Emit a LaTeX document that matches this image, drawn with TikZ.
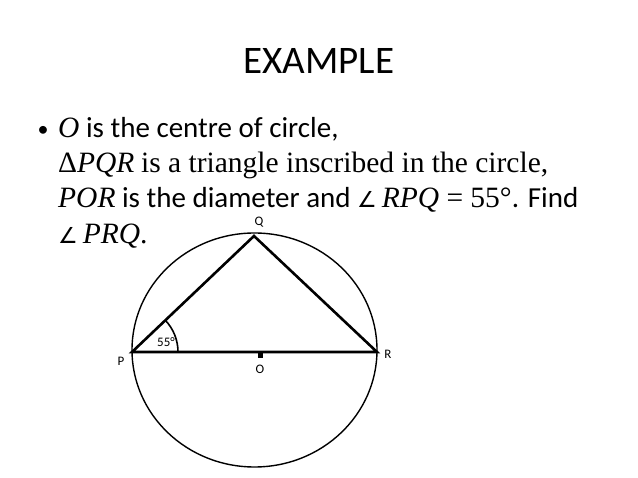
\documentclass[tikz,border=0pt]{standalone}
\usepackage{fontspec}
\setmainfont{Carlito}
\newfontfamily\mfont{Liberation Serif}
\newfontfamily\symfont{DejaVu Sans}
\newcommand\mv[1]{{\mfont\fontsize{29.5}{30}\selectfont\itshape #1}}
\newcommand\mup[1]{{\mfont\fontsize{29.5}{30}\selectfont #1}}
\newcommand\angsym{{\symfont\fontsize{22}{22}\selectfont ∠}}
\begin{document}
\begin{tikzpicture}[x=1pt,y=-1pt,
  body/.style={anchor=base west,inner sep=0pt,font=\fontsize{29}{30}\selectfont},
  lbl/.style={inner sep=0pt,font=\fontsize{13}{14}\selectfont},
  thick line/.style={line width=2.6pt},
  thin line/.style={line width=1.4pt}]
\useasboundingbox (0,0) rectangle (638,478);
% title
\node[inner sep=0pt,font=\fontsize{39}{40}\selectfont] (title) at (319,61) {EXAMPLE};
% body text
\node[inner sep=0pt,font=\fontsize{22}{22}\selectfont] (bullet) at (43,131) {•};
\node[body] (l1) at (58,138) {\mv{O} is the centre of circle,};
\node[body] (l2) at (58,173) {\mup{Δ}\mv{PQR} \mup{is a triangle inscribed in the circle,}};
\node[body] (l3) at (58,208) {\mv{POR} is the diameter and \angsym\,\mv{RPQ}\mup{ = 55°}. Find};
\node[body] (l4) at (58,244) {\angsym\,\mv{PRQ}\mup{.}};
% geometry
\coordinate (C) at (254.5,350);
\coordinate (P) at (132,352);
\coordinate (R) at (377,352);
\coordinate (Q) at (254,236);
\draw[thin line] (C) ellipse [x radius=122.5, y radius=117];
\draw[thick line, line join=miter] (P) -- (Q) -- (R) -- cycle;
\draw[line width=1.6pt] ([shift={(0:46pt)}]P) arc[start angle=0, end angle=43.6, radius=46pt];
\fill (257.5,351.5) rectangle (262.5,358) coordinate (O);
\node[lbl] (Qlbl) at (259,222) {Q};
\node[lbl] (Plbl) at (121,361) {P};
\node[lbl] (Rlbl) at (388,354) {R};
\node[lbl] (Olbl) at (260,369) {O};
\node[lbl] (ang) at (166,342) {55°};
\end{tikzpicture}
\end{document}
